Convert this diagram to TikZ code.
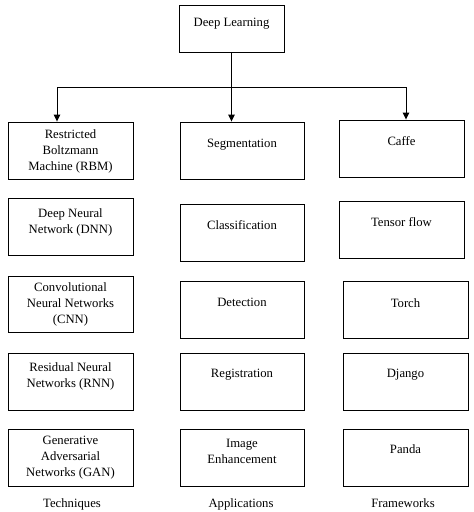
\documentclass[tikz,border=0pt]{standalone}
\usepackage{fontspec}
\setmainfont{Liberation Serif}
\usetikzlibrary{arrows.meta}
\begin{document}
\begin{tikzpicture}[x=1pt,y=-1pt,
  box/.style={draw=black,line width=0.9pt,inner sep=0pt,minimum height=57pt},
  boxw/.style={box,minimum width=125pt},
  txt/.style={inner sep=0pt,align=center,font=\fontsize{12.7}{16}\selectfont},
  btxt/.style={txt,anchor=base},
  arr/.style={-{Triangle[length=7pt,width=6.5pt]},line width=0.9pt},
  lnk/.style={line width=0.9pt}]
\useasboundingbox (0,0) rectangle (474,512);
% root
\node[box,minimum width=105pt,minimum height=47pt] (dl) at (231.5,28.5) {};
\node[btxt] (dlt) at (231.5,26.5) {Deep Learning};
% column left
\node[boxw] (rbm) at (70.5,150.5) {};
\node[txt] (rbmt) at (70.5,151) {Restricted\\Boltzmann\\Machine (RBM)};
\node[boxw] (dnn) at (70.5,226.5) {};
\node[txt] (dnnt) at (70.5,222.5) {Deep Neural\\Network (DNN)};
\node[boxw,minimum height=56pt] (cnn) at (70.5,304) {};
\node[txt] (cnnt) at (70.5,304) {Convolutional\\Neural Networks\\(CNN)};
\node[boxw] (rnn) at (70.5,381.5) {};
\node[txt] (rnnt) at (70.5,376) {Residual Neural\\Networks (RNN)};
\node[boxw] (gan) at (70.5,457.5) {};
\node[txt] (gant) at (70.5,457.5) {Generative\\Adversarial\\Networks (GAN)};
% column middle
\node[box,minimum width=124pt] (seg) at (242,150.5) {};
\node[btxt] (segt) at (242,147.7) {Segmentation};
\node[box,minimum width=124pt] (cls) at (242,232.5) {};
\node[btxt] (clst) at (242,229) {Classification};
\node[box,minimum width=124pt] (det) at (242,309.5) {};
\node[btxt] (dett) at (242,306.7) {Detection};
\node[box,minimum width=124pt] (reg) at (242,381.5) {};
\node[btxt] (regt) at (242,377.3) {Registration};
\node[box,minimum width=124pt] (img) at (242,457.5) {};
\node[txt] (imgt) at (242,451.5) {Image\\Enhancement};
% column right
\node[boxw] (caf) at (401.5,148.5) {};
\node[btxt] (caft) at (401.5,145.7) {Caffe};
\node[boxw] (tf) at (401.5,229.5) {};
\node[btxt] (tft) at (401.5,226.7) {Tensor flow};
\node[boxw] (tor) at (405.5,309.5) {};
\node[btxt] (tort) at (405.5,307.3) {Torch};
\node[boxw] (dja) at (405.5,381.5) {};
\node[btxt] (djat) at (405.5,377.3) {Django};
\node[boxw] (pan) at (405.5,457.5) {};
\node[btxt] (pant) at (405.5,453.3) {Panda};
% captions
\node[btxt] (capl) at (72,507.5) {Techniques};
\node[btxt] (capm) at (241,507.5) {Applications};
\node[btxt] (capr) at (403,507.5) {Frameworks};
% connectors
\coordinate (jl) at (57,87);
\coordinate (jr) at (406,87);
\draw[lnk] (jl) -- (jr);
\draw[arr] (dl.south) -- (dl.south |- seg.north);
\draw[arr] (jl) -- (jl |- rbm.north);
\draw[arr] (jr) -- (jr |- caf.north);
\end{tikzpicture}
\end{document}
